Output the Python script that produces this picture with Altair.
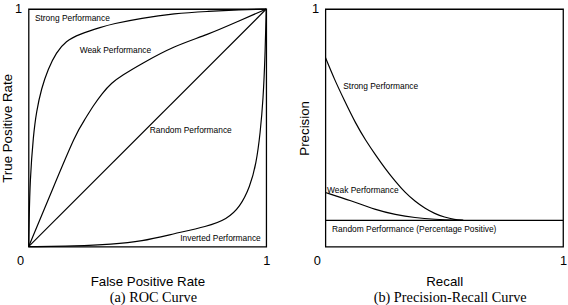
import altair as alt
import pandas as pd

# ---------------- ROC curve data ----------------
roc_strong_fpr = [0, 0.002, 0.006, 0.02, 0.033, 0.054, 0.082, 0.116, 0.157, 0.213, 0.309, 0.351, 0.475, 0.613, 0.751, 0.89, 1]
roc_strong_tpr = [0, 0.10, 0.28, 0.47, 0.569, 0.666, 0.748, 0.817, 0.866, 0.894, 0.925, 0.937, 0.962, 0.981, 0.99, 0.997, 1]

roc_weak_fpr = [0, 0.1, 0.2, 0.24, 0.27, 0.309, 0.35, 0.392, 0.475, 0.613, 0.751, 0.89, 1]
roc_weak_tpr = [0, 0.24, 0.48, 0.54, 0.59, 0.645, 0.69, 0.72, 0.77, 0.845, 0.891, 0.952, 1]

roc_random_fpr = [0, 1]
roc_random_tpr = [0, 1]

roc_inv_fpr = [0, 0.2, 0.35, 0.475, 0.613, 0.751, 0.834, 0.89, 0.931, 0.958, 0.975, 0.987, 0.995, 1]
roc_inv_tpr = [0, 0.003, 0.01, 0.022, 0.055, 0.085, 0.115, 0.168, 0.25, 0.35, 0.48, 0.62, 0.8, 1]

roc_label_text = ["Strong Performance", "Weak Performance", "Random Performance", "Inverted Performance"]
roc_label_x = [0.0265, 0.215, 0.51, 0.638]
roc_label_y = [0.963, 0.829, 0.489, 0.037]

# ---------------- Precision-Recall data ----------------
pr_strong_recall = [0, 0.037, 0.079, 0.128, 0.169, 0.211, 0.252, 0.294, 0.335, 0.377, 0.418, 0.46, 0.501, 0.543, 0.58]
pr_strong_prec = [0.796, 0.706, 0.617, 0.517, 0.448, 0.386, 0.328, 0.275, 0.228, 0.191, 0.162, 0.139, 0.124, 0.114, 0.111]

pr_weak_recall = [0, 0.107, 0.211, 0.294, 0.377, 0.46, 0.55, 0.58]
pr_weak_prec = [0.228, 0.194, 0.155, 0.135, 0.122, 0.115, 0.111, 0.111]

pr_random_recall = [0, 1]
pr_random_prec = [0.111, 0.111]

pr_label_text = ["Strong Performance", "Weak Performance", "Random Performance (Percentage Positive)"]
pr_label_x = [0.075, 0.007, 0.028]
pr_label_y = [0.676, 0.24, 0.076]

FONT = "Liberation Sans"
SERIF = "Liberation Serif"
W = 241
H = 241


def series_df(pairs):
    rows = []
    for name, xs, ys in pairs:
        for i, (a, b) in enumerate(zip(xs, ys)):
            rows.append({"series": name, "x": a, "y": b, "i": i})
    return pd.DataFrame(rows)


def panel(line_pairs, lab_text, lab_x, lab_y, xtitle, ytitle, caption):
    df = series_df(line_pairs)
    labels = pd.DataFrame({"text": lab_text, "x": lab_x, "y": lab_y})
    sc = alt.Scale(domain=[0, 1], nice=False, zero=False)
    xaxis = alt.Axis(
        values=[0, 1], format="d", title=xtitle, domain=False, ticks=False, grid=False,
        labelFont=FONT, labelFontSize=13, labelColor="black", labelPadding=8, labelFlush=False,
        labelAlign=alt.condition("datum.value == 0", alt.value("right"), alt.value("center")),
        labelOffset=alt.condition("datum.value == 0", alt.value(-5), alt.value(0)),
        titleFont=FONT, titleFontSize=13.5, titleFontWeight="normal", titleColor="black", titlePadding=7,
    )
    yaxis = alt.Axis(
        values=[1], format="d", title=ytitle, domain=False, ticks=False, grid=False,
        labelFont=FONT, labelFontSize=13, labelColor="black", labelPadding=7,
        titleFont=FONT, titleFontSize=13.5, titleFontWeight="normal", titleColor="black",
        titlePadding=0,
    )
    lines = alt.Chart(df).mark_line(color="black", strokeWidth=1.2, interpolate="basis").encode(
        x=alt.X("x:Q", scale=sc, axis=xaxis),
        y=alt.Y("y:Q", scale=sc, axis=yaxis),
        detail="series:N",
        order="i:Q",
    )
    texts = alt.Chart(labels).mark_text(
        align="left", baseline="middle", font=FONT, fontSize=8.5, color="black"
    ).encode(x=alt.X("x:Q", scale=sc), y=alt.Y("y:Q", scale=sc), text="text:N")
    return alt.layer(lines, texts).properties(
        width=W, height=H,
        title=alt.TitleParams(caption, orient="bottom", font=SERIF, fontSize=14.5,
                              fontWeight="normal", color="black", anchor="middle",
                              frame="group", dx=6, offset=4),
    )


left = panel(
    [("strong", roc_strong_fpr, roc_strong_tpr), ("weak", roc_weak_fpr, roc_weak_tpr),
     ("random", roc_random_fpr, roc_random_tpr), ("inverted", roc_inv_fpr, roc_inv_tpr)],
    roc_label_text, roc_label_x, roc_label_y,
    "False Positive Rate", "True Positive Rate", "(a) ROC Curve",
)
right = panel(
    [("strong", pr_strong_recall, pr_strong_prec), ("weak", pr_weak_recall, pr_weak_prec),
     ("random", pr_random_recall, pr_random_prec)],
    pr_label_text, pr_label_x, pr_label_y,
    "Recall", "Precision", "(b) Precision-Recall Curve",
)

chart = alt.hconcat(left, right, spacing=26).properties(
    padding={"left": 0, "top": 0, "right": 0, "bottom": 0},
    background="white",
).configure_view(stroke="black", strokeWidth=1.3)

chart.save("out.html", embed_options={"renderer": "svg", "actions": False})
